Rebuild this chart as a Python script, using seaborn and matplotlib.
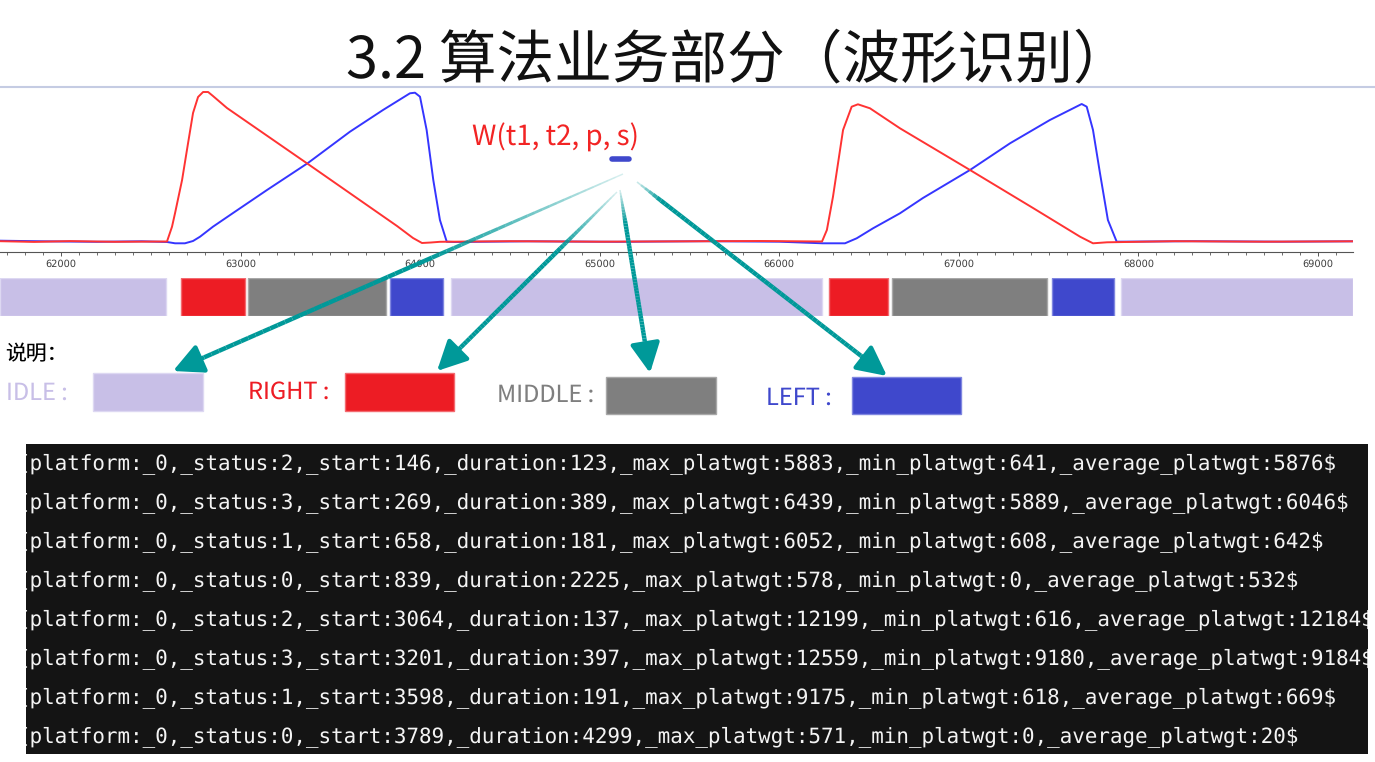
import matplotlib.pyplot as plt
import numpy as np
import pandas as pd
import seaborn as sns
from matplotlib.collections import LineCollection
from matplotlib.patches import FancyArrowPatch, Rectangle
from matplotlib.ticker import MultipleLocator

sns.set_style("white")
plt.rcParams['font.family'] = ['Noto Sans CJK SC', 'DejaVu Sans']
plt.rcParams['text.hinting'] = 'no_hinting'

# waveform (x = sample index, y = weight above baseline)
red_x = [61660, 61850, 62050, 62300, 62590, 62618, 62635, 62674, 62707, 62735, 62763, 62791,
         62819, 62846, 62924, 63375, 63871, 63960, 64010, 64060, 64110, 64500, 65000, 65500,
         65900, 66238, 66265, 66299, 66355, 66403, 66438, 66505, 66672, 67062, 67413, 67675,
         67747, 67825, 68200, 68700, 69195]
red_y = [0.3, -0.4, 0.4, -0.3, 0, 14.8, 28.5, 61.5, 98, 128.5, 144.5, 149.5,
         149.5, 145.5, 133.5, 77.5, 15.5, 3.5, -1.5, -1.0, -0.3, 0.3, -0.2, 0.2,
         0.5, 0, 11.5, 44.8, 111.5, 134.8, 137.2, 133.2, 113.2, 71.5, 33.5, 4.8,
         -1.8, -0.8, 0.3, -0.2, 0.2]

blue_x = [61660, 61900, 62200, 62450, 62590, 62635, 62690, 62735, 62774, 62846, 62958, 63147,
          63375, 63609, 63793, 63943, 63971, 63999, 64036, 64073, 64110, 64148, 64194, 64600,
          65100, 65600, 66000, 66243, 66366, 66431, 66522, 66672, 66800, 67062, 67285, 67507,
          67684, 67712, 67747, 67786, 67830, 67879, 68300, 68800, 69195]
blue_y = [0.8, 0.2, -0.3, 0.2, -0.5, -1.8, -1.8, 0.5, 4.8, 14.8, 28.5, 51.5,
          78.5, 109.8, 131.5, 148.2, 148.8, 144.8, 111.5, 61.5, 21.5, -0.2, -0.5, 0.2,
          -0.3, 0.3, -0.2, -1.8, -1.8, 3.2, 13.2, 28.2, 43.5, 71.5, 98.2, 121.5,
          137.5, 134.8, 111.5, 68.2, 21.5, -0.2, 0.3, -0.2, 0.2]

# recognised states along the same x axis
seg_start = [61660, 62668, 63041, 63832, 64172, 66277, 66628, 67519, 67903]
seg_end = [62585, 63025, 63810, 64127, 66238, 66605, 67491, 67864, 69195]
seg_state = ["IDLE", "RIGHT", "MIDDLE", "LEFT", "IDLE", "RIGHT", "MIDDLE", "LEFT", "IDLE"]

states = ["IDLE", "RIGHT", "MIDDLE", "LEFT"]
state_colors = {"IDLE": "#c8bfe7", "RIGHT": "#ed1c24", "MIDDLE": "#7f7f7f", "LEFT": "#3f48cc"}
state_edges = {"IDLE": "#ddd8f2", "RIGHT": "#f36a70", "MIDDLE": "#a8a8a8", "LEFT": "#7f86e0"}

# console output
log_status = [2, 3, 1, 0, 2, 3, 1, 0]
log_start = [146, 269, 658, 839, 3064, 3201, 3598, 3789]
log_duration = [123, 389, 181, 2225, 137, 397, 191, 4299]
log_max = [5883, 6439, 6052, 578, 12199, 12559, 9175, 571]
log_min = [641, 5889, 608, 0, 616, 9180, 618, 0]
log_avg = [5876, 6046, 642, 532, 12184, 9184, 669, 20]

W, H = 1375, 762
fig = plt.figure(figsize=(W / 100, H / 100), dpi=100)


def px_axes(x0, y0, x1, y1, **kw):
    return fig.add_axes([x0 / W, 1 - y1 / H, (x1 - x0) / W, (y1 - y0) / H], **kw)


# waveform
wave = pd.DataFrame({
    "x": red_x + blue_x,
    "y": red_y + blue_y,
    "ch": ["red"] * len(red_x) + ["blue"] * len(blue_x),
})
ax = px_axes(0, 88, 1353, 252)
sns.lineplot(data=wave, x="x", y="y", hue="ch", hue_order=["blue", "red"],
             palette={"red": "#ff3333", "blue": "#3535ff"}, lw=1.4,
             estimator=None, sort=False, legend=False, ax=ax)
ax.set_xlim(61660, 69195)
ax.set_ylim(-10.5, 153.5)
ax.set_xlabel("")
ax.set_ylabel("")
ax.set_yticks([])
for s in ["top", "left", "right"]:
    ax.spines[s].set_visible(False)
ax.spines["bottom"].set_color("#555555")
ax.spines["bottom"].set_linewidth(0.8)
ax.xaxis.set_major_locator(MultipleLocator(1000))
ax.xaxis.set_minor_locator(MultipleLocator(100))
ax.tick_params(axis="x", which="major", direction="out", length=3, width=0.7,
               color="#555555", labelsize=7, labelcolor="#404040", pad=2, bottom=True)
ax.tick_params(axis="x", which="minor", direction="out", length=2, width=0.6,
               color="#555555", bottom=True)
for lab in ax.get_xticklabels():
    lab.set_family("DejaVu Sans")
ax.patch.set_alpha(0)

# state strip
bar = px_axes(0, 278, 1353, 316)
bar.barh(0, np.subtract(seg_end, seg_start), left=seg_start, height=1,
         color=[state_colors[s] for s in seg_state],
         edgecolor=[state_edges[s] for s in seg_state], lw=1)
bar.set_xlim(61660, 69195)
bar.set_ylim(-0.5, 0.5)
bar.axis("off")

# slide overlay in pixel units
ov = px_axes(0, 0, W, H, zorder=5)
ov.set_xlim(0, W)
ov.set_ylim(H, 0)
ov.axis("off")
ov.patch.set_alpha(0)

ov.text(738, 61, "3.2 算法业务部分（波形识别）", ha="center", va="center",
        fontsize=41.5, color="#111111", weight="light")
ov.plot([0, W], [87, 87], color="#c5cce3", lw=1.5)

ov.text(472, 137, "W(t1, t2, p, s)", ha="left", va="center", fontsize=20, color="#f22424")
ov.plot([612, 629], [158.5, 158.5], color="#3f48cc", lw=4, solid_capstyle="round")

arrows = [((623, 174), (173, 371), 0.45), ((617, 192), (437, 371), 0.35),
          ((620, 190), (650, 373), 0.2), ((637, 182), (887, 376), 0.1)]
for (x0, y0), (x1, y1), fade in arrows:
    L = np.hypot(x1 - x0, y1 - y0)
    ux, uy = (x1 - x0) / L, (y1 - y0) / L
    xe, ye = x1 - ux * 18, y1 - uy * 18
    t = np.linspace(0, 1, 60)
    lx = x0 + (xe - x0) * t
    ly = y0 + (ye - y0) * t
    segs = np.stack([np.column_stack([lx[:-1], ly[:-1]]),
                     np.column_stack([lx[1:], ly[1:]])], axis=1)
    ramp = np.clip(((t[:-1] + t[1:]) / 2) / fade, 0, 1)
    cols = [(0, 0.6, 0.6, 0.15 + 0.85 * r) for r in ramp]
    ov.add_collection(LineCollection(segs, colors=cols, linewidths=1.0 + 2.2 * ramp,
                                     capstyle="butt"))
    ov.add_patch(FancyArrowPatch((xe - ux * 4, ye - uy * 4), (x1, y1),
                                 arrowstyle="-|>,head_length=1.0,head_width=0.5",
                                 mutation_scale=18, color="#009999", lw=3.2,
                                 shrinkA=0, shrinkB=0))

ov.text(5, 354, "说明：", ha="left", va="center", fontsize=15, color="black")

legend_text_xy = [(6, 393), (248, 392), (497, 395), (766, 398)]
legend_box = [(93, 373, 203, 411), (345, 373, 454, 411), (606, 377, 716, 414), (852, 377, 961, 414)]
for s, (tx, ty), (bx0, by0, bx1, by1) in zip(states, legend_text_xy, legend_box):
    ov.text(tx, ty, s + " :", ha="left", va="center", fontsize=17, color=state_colors[s])
    ov.add_patch(Rectangle((bx0, by0), bx1 - bx0, by1 - by0, facecolor=state_colors[s],
                           edgecolor=state_edges[s], lw=1))

# console block
term = px_axes(26, 444, 1368, 754)
term.set_facecolor("#141414")
term.set_xlim(26, 1368)
term.set_ylim(754, 444)
term.set_xticks([])
term.set_yticks([])
for s in term.spines.values():
    s.set_visible(False)
fmt = "[platform:_0,_status:{},_start:{},_duration:{},_max_platwgt:{},_min_platwgt:{},_average_platwgt:{}$"
for i in range(len(log_status)):
    line = fmt.format(log_status[i], log_start[i], log_duration[i], log_max[i], log_min[i], log_avg[i])
    term.text(17.5, 470 + 39 * i, line, family="DejaVu Sans Mono", fontsize=15.05,
              color="#f4f4f4", ha="left", va="baseline", clip_on=True)

fig.savefig("out.png", dpi=100)
